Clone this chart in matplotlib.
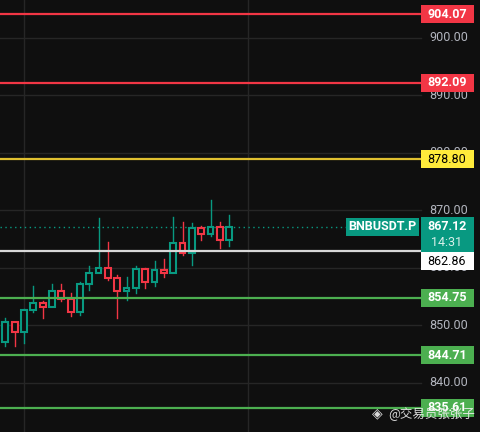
import matplotlib.pyplot as plt
from matplotlib.patches import Rectangle
from matplotlib.transforms import blended_transform_factory

plt.rcParams['font.family'] = ['Roboto', 'Noto Sans CJK SC', 'DejaVu Sans']

# OHLC, 25 candles
opens = [847.0, 850.6, 848.8, 852.6, 853.8, 853.2, 856.0, 854.5, 852.2, 857.1,
         859.0, 859.9, 858.1, 856.0, 856.4, 859.7, 857.4, 859.5, 859.0, 864.2,
         862.5, 866.8, 865.9, 867.0, 864.7]
closes = [850.6, 848.8, 852.6, 853.8, 853.2, 856.0, 854.5, 852.2, 857.1, 859.0,
          859.9, 858.1, 856.0, 856.4, 859.7, 857.4, 859.5, 859.0, 864.2, 862.5,
          866.8, 865.9, 867.0, 864.7, 867.12]
highs = [851.2, 850.6, 852.8, 856.8, 854.1, 857.1, 857.1, 855.6, 857.5, 860.3,
         868.6, 864.4, 858.7, 858.3, 860.3, 860.0, 861.1, 861.5, 868.8, 867.9,
         867.7, 867.2, 871.7, 867.9, 869.1]
lows = [846.4, 846.4, 846.8, 852.3, 851.3, 853.2, 854.2, 851.6, 851.8, 856.1,
        859.0, 857.8, 851.3, 854.4, 855.6, 856.5, 856.8, 858.4, 859.0, 862.2,
        860.5, 864.7, 865.4, 863.4, 863.8]

grid_prices = [840, 850, 860, 870, 880, 890, 900]
time_grid = [2, 26]

# key levels: price, line colour, box colour, text colour
levels = [904.07, 892.09, 878.80, 862.86, 854.75, 844.71, 835.61]
level_line_colors = ['#f23645', '#f23645', '#e0c030', '#d8d8d8', '#4caf50', '#4caf50', '#4caf50']
level_box_colors = ['#f23645', '#f23645', '#ffeb3b', '#ffffff', '#4caf50', '#4caf50', '#4caf50']
level_text_colors = ['white', 'white', 'black', 'black', 'white', 'white', 'white']
# tag shift in pixels (the white tag is pushed down by the current price tag)
level_tag_shift = [0, 0, 0, 10, 0, 0, 0]

last_price = 867.12
countdown = '14:31'
symbol = 'BNBUSDT.P'
watermark = '@交易员张张子'

bg = '#0f0f0f'
up_col = '#089981'
down_col = '#f23645'
W, H = 480, 432

fig = plt.figure(figsize=(4.8, 4.32), dpi=100, facecolor=bg)
ax = fig.add_axes([0, 0, 1, 1])
ax.set_facecolor(bg)
for s in ax.spines.values():
    s.set_visible(False)
ax.set_xticks([])
ax.set_yticks([])

step = 9.33
x0 = 5.3
ax.set_xlim(-x0 / step, (W - x0) / step)
ax.set_ylim(870 - (H - 210) / 5.75, 870 + 210 / 5.75)

plot_edge = 421 / W
trans = blended_transform_factory(ax.transAxes, ax.transData)
px_y = 1 / 5.75  # data units per pixel

# grid
for p in grid_prices:
    ax.plot([0, plot_edge], [p, p], transform=trans, color='#262626', lw=1, zorder=1)
for t in time_grid:
    ax.axvline(t, color='#262626', lw=1, zorder=1)

# candles
bw = 0.62
for i, (o, c, h, l) in enumerate(zip(opens, closes, highs, lows)):
    col = up_col if c >= o else down_col
    top, bot = max(o, c), min(o, c)
    ax.plot([i, i], [top, h], color=col, lw=1, zorder=3)
    ax.plot([i, i], [l, bot], color=col, lw=1, zorder=3)
    ax.add_patch(Rectangle((i - bw / 2, bot), bw, max(top - bot, 0.2),
                           facecolor=bg, edgecolor=col, lw=1.5, zorder=4))

# last price dotted line
ax.plot([0, 346 / W], [last_price, last_price], transform=trans, color=up_col,
        lw=1, ls=(0, (1, 2.5)), zorder=2)

# level lines
for p, lc in zip(levels, level_line_colors):
    ax.plot([0, plot_edge], [p, p], transform=trans, color=lc, lw=1.6, zorder=5)

# axis price labels
for p in grid_prices:
    ax.text(449 / W, p, f'{p:.2f}', transform=trans, ha='center', va='center',
            color='#b2b5be', fontsize=9, zorder=6)

# level price tags
for p, bc, tc, sh in zip(levels, level_box_colors, level_text_colors, level_tag_shift):
    yc = p - sh * px_y
    ax.add_patch(Rectangle((plot_edge, yc - 9 * px_y), 53 / W, 18 * px_y, transform=trans,
                           facecolor=bc, edgecolor='none', zorder=7))
    ax.text(447 / W, yc, f'{p:.2f}', transform=trans, ha='center', va='center',
            color=tc, fontsize=9, fontweight='bold' if tc == 'white' else 'normal', zorder=8)

# current price tag
ax.add_patch(Rectangle((plot_edge, last_price - 25.5 * px_y), 53 / W, 35 * px_y, transform=trans,
                       facecolor=up_col, edgecolor='none', zorder=9))
ax.text(447 / W, last_price, f'{last_price:.2f}', transform=trans, ha='center', va='center',
        color='white', fontsize=9, fontweight='bold', zorder=10)
ax.text(447 / W, last_price - 16 * px_y, countdown, transform=trans, ha='center', va='center',
        color='#d8f0ea', fontsize=9, zorder=10)

# symbol tag
ax.add_patch(Rectangle((346 / W, last_price - 9 * px_y), 73 / W, 18 * px_y, transform=trans,
                       facecolor=up_col, edgecolor='none', zorder=9))
ax.text(382.5 / W, last_price, symbol, transform=trans, ha='center', va='center',
        color='white', fontsize=9, fontweight='bold', zorder=10)

# watermark
fig.text(372 / W, 1 - 413 / H, '◈', color='#f0f0f0', fontsize=10, ha='left', va='center',
         family=['DejaVu Sans'], alpha=0.9, zorder=11)
fig.text(388 / W, 1 - 413 / H, watermark, color='#f0f0f0', fontsize=9, ha='left',
         va='center', family=['Noto Sans CJK SC', 'DejaVu Sans'], alpha=0.9, zorder=11)

fig.savefig('out.png', dpi=100, facecolor=bg)
